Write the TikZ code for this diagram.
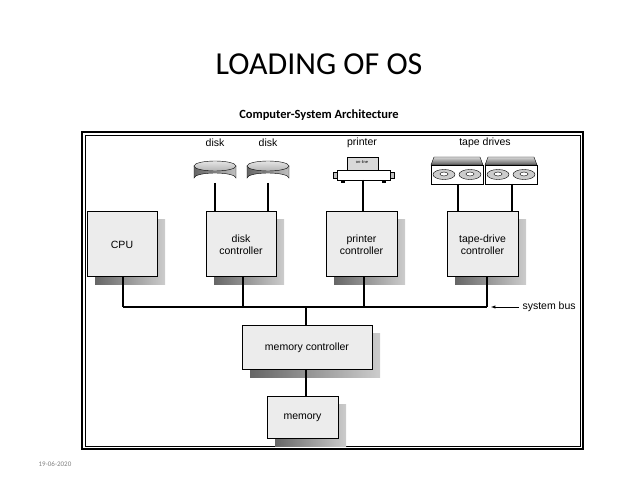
\documentclass[tikz,border=0pt]{standalone}
\usepackage{fontspec}
\setmainfont{Liberation Sans}
\newfontfamily\carlitofont{Carlito}
\begin{document}
\begin{tikzpicture}[x=1pt,y=-1pt,
 box/.style={draw=black,line width=1pt,fill=gray!15,align=center,font=\fontsize{10.5}{12}\selectfont},
 lbl/.style={font=\fontsize{10.5}{12}\selectfont},
 wire/.style={line width=1.2pt}]
\useasboundingbox (0,0) rectangle (638,478);
\node[font=\carlitofont\fontsize{32}{34}\selectfont] (title) at (319,64) {LOADING OF OS};
\node[font=\carlitofont\bfseries\fontsize{12.5}{14}\selectfont] (sub) at (319,115) {Computer-System Architecture};
\node[font=\carlitofont\fontsize{7}{8}\selectfont,text=gray] (date) at (55,464) {19-06-2020};
\draw[line width=1.2pt,black] (82,132) rectangle (583,449);
\draw[line width=0.8pt,black] (85,135) rectangle (580,446);
% shadows
\foreach \a/\b/\c/\d in {87/212/157/277,206/212/276/277,326/212/397/277,447/212/518/277,242/326/372/370,267/397/338/439}
  \shade[left color=gray!80!black,right color=gray!40] (\a+8,\b+8) rectangle (\c+8,\d+8);
\node[box,minimum width=70pt,minimum height=65pt] (cpu) at (122,244.5) {CPU};
\node[box,minimum width=70pt,minimum height=65pt] (dc) at (241,244.5) {disk\\controller};
\node[box,minimum width=71pt,minimum height=65pt] (pc) at (361.5,244.5) {printer\\controller};
\node[box,minimum width=71pt,minimum height=65pt] (tc) at (482.5,244.5) {tape-drive\\controller};
\node[box,minimum width=130pt,minimum height=44pt] (mc) at (307,348) {memory controller};
\node[box,minimum width=71pt,minimum height=42pt] (mem) at (302.5,418) {memory};
% bus
\coordinate (b1) at (123,307); \coordinate (b2) at (243,307); \coordinate (b3) at (364,307);
\coordinate (b4) at (487,307); \coordinate (bm) at (306,307);
\draw[wire] (b1) -- (b4);
\draw[wire] (cpu.south -| b1) -- (b1);
\draw[wire] (dc.south -| b2) -- (b2);
\draw[wire] (pc.south -| b3) -- (b3);
\draw[wire] (tc.south -| b4) -- (b4);
\draw[wire] (bm) -- (mc.north -| bm);
\draw[wire] (mc.south -| bm) -- (mem.north -| bm);
\coordinate (arr) at (519,307);
\draw[-latex,line width=0.5pt] (arr) -- (491,307);
\node[lbl,anchor=west] (sb) at (519,307) {system bus};
% disks
\foreach \n/\x in {d1/215,d2/268}{
  \path[left color=gray!80!black,right color=gray!50,draw=black] (\x-21,166) -- (\x-21,178) arc[start angle=180,end angle=360,x radius=21,y radius=5] -- (\x+21,166) -- cycle;
  \path[top color=gray!20,bottom color=gray!60,draw=black] (\x,166) ellipse[x radius=21,y radius=5];
  \coordinate (\n) at (\x,183);
  \node[lbl] at (\x,143) {disk};
}
\draw[wire] (d1) -- (dc.north -| d1);
\draw[wire] (d2) -- (dc.north -| d2);
% printer
\node[lbl] (pl) at (362,143) {printer};
\draw[fill=gray!30] (347,157) rectangle (378,171);
\node[font=\fontsize{4}{4}\selectfont] at (362,162) {on-line};
\draw[fill=white] (337,170) rectangle (390,180);
\draw[fill=gray!50] (333,172) rectangle (337,178);
\draw[fill=gray!50] (390,172) rectangle (394,178);
\fill (341,180) rectangle (345,183); \fill (382,180) rectangle (386,183);
\coordinate (pr) at (363,180);
\draw[wire] (pr) -- (pc.north -| pr);
% tape drives
\node[lbl] (tl) at (485,143) {tape drives};
\foreach \n/\x in {t1/431,t2/485}{
  \path[top color=gray!30,bottom color=gray!70!black,draw=black] (\x+3,157) -- (\x+49,157) -- (\x+52,165) -- (\x,165) -- cycle;
  \draw[fill=white] (\x,165) rectangle (\x+52,184);
  \foreach \dx in {13,39}{
   \draw[fill=gray!40] (\x+\dx,174.5) ellipse[x radius=11,y radius=5];
   \draw[fill=white] (\x+\dx,174) ellipse[x radius=4,y radius=2];
  }
  \coordinate (\n) at (\x+27,184);
}
\draw[wire] (t1) -- (tc.north -| t1);
\draw[wire] (t2) -- (tc.north -| t2);
\end{tikzpicture}
\end{document}
